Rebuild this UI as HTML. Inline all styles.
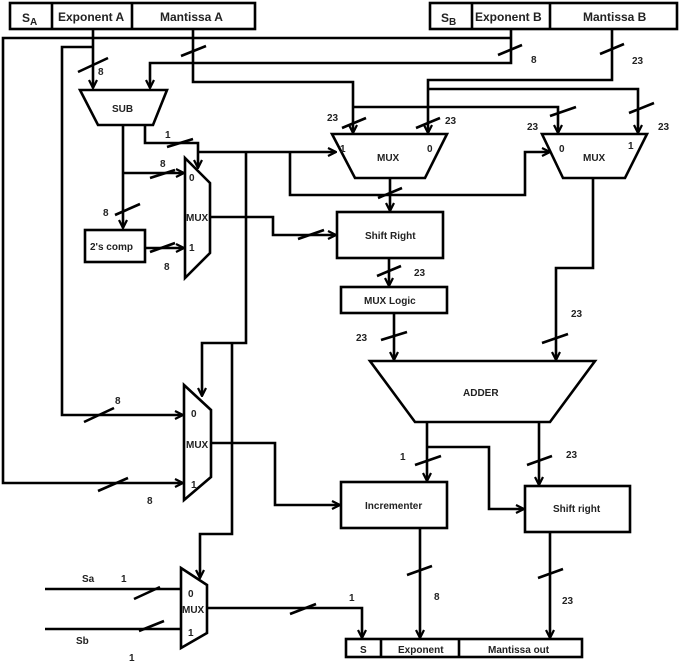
<!DOCTYPE html>
<html><head><meta charset="utf-8"><style>
html,body{margin:0;padding:0;background:#fff;}
svg{display:block;}
text{font-family:"Liberation Sans",Arial,sans-serif;font-weight:bold;fill:#222;}
</style></head><body>
<svg width="685" height="661" viewBox="0 0 685 661" xmlns="http://www.w3.org/2000/svg">
<defs>
<marker id="a" markerWidth="10" markerHeight="10" refX="9" refY="5" orient="auto" markerUnits="userSpaceOnUse">
<path d="M1,1 L9,5 L1,9" fill="none" stroke="#000" stroke-width="2.2"/>
</marker>
</defs>
<g fill="none" stroke="#000" stroke-width="2.6">
<!-- top boxes -->
<rect x="10" y="3" width="245" height="26" fill="#fff"/>
<line x1="52" y1="3" x2="52" y2="29"/><line x1="132" y1="3" x2="132" y2="29"/>
<rect x="430" y="3" width="247" height="26" fill="#fff"/>
<line x1="472" y1="3" x2="472" y2="29"/><line x1="550" y1="3" x2="550" y2="29"/>
<!-- exp A -->
<path d="M93,29 V88" marker-end="url(#a)"/>
<path d="M93,47 H62 V415 H183" marker-end="url(#a)"/>
<!-- exp B -->
<path d="M511,29 V63 H150 V88" marker-end="url(#a)"/>
<path d="M511,38 H3 V483 H183" marker-end="url(#a)"/>
<!-- mantissa A -->
<path d="M193,29 V82 H353 V133" marker-end="url(#a)"/>
<path d="M353,107 H558 V133" marker-end="url(#a)"/>
<!-- mantissa B -->
<path d="M612,29 V80 H428 V133" marker-end="url(#a)"/>
<path d="M428,89 H638 V133" marker-end="url(#a)"/>
<!-- SUB -->
<polygon points="80,90 167,90 153,125 98,125" fill="#fff"/>
<path d="M123,125 V228" marker-end="url(#a)"/>
<path d="M123,173 H184" marker-end="url(#a)"/>
<path d="M145,125 V143 H198 V168" marker-end="url(#a)"/>
<path d="M198,152 H336" marker-end="url(#a)"/>
<path d="M290,152 V195 H525 V152 H550" marker-end="url(#a)"/>
<path d="M246,152 V343 H202 V396" marker-end="url(#a)"/>
<path d="M232,343 V534 H200 V578" marker-end="url(#a)"/>
<!-- 2's comp -->
<rect x="85" y="230" width="60" height="32" fill="#fff"/>
<path d="M145,248 H184" marker-end="url(#a)"/>
<!-- MUX0 -->
<polygon points="185,158 210,183 210,253 185,278" fill="#fff"/>
<path d="M210,217 H273 V235 H336" marker-end="url(#a)"/>
<!-- MUX1 top -->
<polygon points="332,134 447,134 425,178 355,178" fill="#fff"/>
<path d="M390,178 V211" marker-end="url(#a)"/>
<!-- MUX right -->
<polygon points="542,134 647,134 625,178 563,178" fill="#fff"/>
<path d="M593,178 V268 H556 V360" marker-end="url(#a)"/>
<!-- shift right -->
<rect x="337" y="212" width="106" height="46" fill="#fff"/>
<path d="M389,258 V286" marker-end="url(#a)"/>
<rect x="341" y="287" width="106" height="26" fill="#fff"/>
<path d="M394,313 V360" marker-end="url(#a)"/>
<!-- adder -->
<polygon points="370,361 595,361 550,422 415,422" fill="#fff"/>
<path d="M427,422 V481" marker-end="url(#a)"/>
<path d="M427,447 H489 V509 H524" marker-end="url(#a)"/>
<path d="M539,422 V485" marker-end="url(#a)"/>
<!-- MUX2 -->
<polygon points="184,385 211,410 211,477 184,500" fill="#fff"/>
<path d="M211,443 H275 V505 H340" marker-end="url(#a)"/>
<rect x="341" y="482" width="106" height="46" fill="#fff"/>
<rect x="525" y="486" width="105" height="46" fill="#fff"/>
<path d="M420,528 V638" marker-end="url(#a)"/>
<path d="M550,532 V638" marker-end="url(#a)"/>
<!-- MUX3 -->
<polygon points="181,568 207,585 207,633 181,648" fill="#fff"/>
<path d="M45,589 H181"/><path d="M45,629 H181"/>
<path d="M207,608 H362 V638" marker-end="url(#a)"/>
<rect x="346" y="639" width="236" height="18" fill="#fff"/>
<line x1="381" y1="639" x2="381" y2="657"/><line x1="459" y1="639" x2="459" y2="657"/>
</g>
<!-- slashes -->
<g stroke="#000" stroke-width="2.6">
<line x1="78" y1="72" x2="108" y2="58"/>
<line x1="181" y1="56" x2="206" y2="46"/>
<line x1="498" y1="55" x2="522" y2="45"/>
<line x1="600" y1="54" x2="624" y2="44"/>
<line x1="342" y1="128" x2="366" y2="118"/>
<line x1="416" y1="128" x2="440" y2="118"/>
<line x1="550" y1="116" x2="576" y2="107"/>
<line x1="629" y1="113" x2="654" y2="103"/>
<line x1="167" y1="147" x2="193" y2="139"/>
<line x1="150" y1="178" x2="175" y2="170"/>
<line x1="115" y1="215" x2="140" y2="204"/>
<line x1="150" y1="252" x2="175" y2="243"/>
<line x1="298" y1="239" x2="324" y2="230"/>
<line x1="378" y1="198" x2="402" y2="188"/>
<line x1="377" y1="276" x2="401" y2="266"/>
<line x1="381" y1="340" x2="407" y2="332"/>
<line x1="542" y1="343" x2="568" y2="334"/>
<line x1="84" y1="422" x2="114" y2="408"/>
<line x1="98" y1="491" x2="128" y2="478"/>
<line x1="415" y1="465" x2="441" y2="456"/>
<line x1="527" y1="465" x2="552" y2="456"/>
<line x1="407" y1="575" x2="432" y2="566"/>
<line x1="538" y1="578" x2="563" y2="569"/>
<line x1="134" y1="599" x2="160" y2="587"/>
<line x1="139" y1="631" x2="164" y2="621"/>
<line x1="290" y1="614" x2="316" y2="604"/>
</g>
<g font-size="12">
<text x="22" y="22">S<tspan font-size="10" dy="3">A</tspan></text>
<text x="58" y="21">Exponent A</text>
<text x="160" y="21">Mantissa A</text>
<text x="441" y="22">S<tspan font-size="10" dy="3">B</tspan></text>
<text x="475" y="21">Exponent B</text>
<text x="583" y="21">Mantissa B</text>
</g>
<g font-size="10">
<text x="112" y="112">SUB</text>
<text x="90" y="250">2's comp</text>
<text x="189" y="181">0</text>
<text x="186" y="221">MUX</text>
<text x="189" y="251">1</text>
<text x="340" y="152">1</text>
<text x="377" y="161">MUX</text>
<text x="427" y="152">0</text>
<text x="559" y="152">0</text>
<text x="583" y="161">MUX</text>
<text x="628" y="149">1</text>
<text x="365" y="239">Shift Right</text>
<text x="364" y="304">MUX Logic</text>
<text x="463" y="396">ADDER</text>
<text x="191" y="417">0</text>
<text x="186" y="448">MUX</text>
<text x="191" y="488">1</text>
<text x="365" y="509">Incrementer</text>
<text x="553" y="512">Shift right</text>
<text x="188" y="597">0</text>
<text x="182" y="613">MUX</text>
<text x="188" y="636">1</text>
<text x="360" y="653">S</text>
<text x="398" y="653">Exponent</text>
<text x="488" y="653">Mantissa out</text>
<text x="98" y="75">8</text>
<text x="531" y="63">8</text>
<text x="632" y="64">23</text>
<text x="327" y="121">23</text>
<text x="445" y="124">23</text>
<text x="527" y="130">23</text>
<text x="658" y="130">23</text>
<text x="165" y="138">1</text>
<text x="160" y="167">8</text>
<text x="103" y="216">8</text>
<text x="164" y="270">8</text>
<text x="414" y="276">23</text>
<text x="356" y="341">23</text>
<text x="571" y="317">23</text>
<text x="115" y="404">8</text>
<text x="147" y="504">8</text>
<text x="400" y="460">1</text>
<text x="566" y="458">23</text>
<text x="82" y="582">Sa</text>
<text x="121" y="582">1</text>
<text x="76" y="644">Sb</text>
<text x="129" y="661">1</text>
<text x="349" y="601">1</text>
<text x="434" y="600">8</text>
<text x="562" y="604">23</text>
</g>
</svg>
</body></html>
